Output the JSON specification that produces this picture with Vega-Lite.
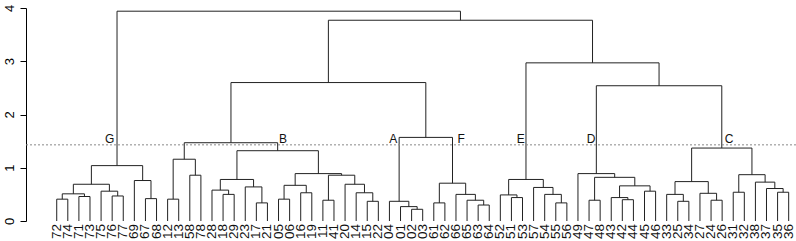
{
 "$schema": "https://vega.github.io/schema/vega-lite/v6.json",
 "width": 770,
 "height": 213,
 "autosize": {"type": "none"},
 "padding": {"left": 26, "top": 8, "right": 0, "bottom": 20},
 "background": "white",
 "config": {"view": {"stroke": null}, "font": "Liberation Sans"},
 "datasets": {
  "nodes": [
   {"xl":1,"hl":0,"xr":2,"hr":0,"h":0.41},
   {"xl":3,"hl":0,"xr":4,"hr":0,"h":0.46},
   {"xl":1.5,"hl":0.41,"xr":3.5,"hr":0.46,"h":0.51},
   {"xl":6,"hl":0,"xr":7,"hr":0,"h":0.47},
   {"xl":5,"hl":0,"xr":6.5,"hr":0.47,"h":0.56},
   {"xl":2.5,"hl":0.51,"xr":5.75,"hr":0.56,"h":0.69},
   {"xl":9,"hl":0,"xr":10,"hr":0,"h":0.42},
   {"xl":8,"hl":0,"xr":9.5,"hr":0.42,"h":0.76},
   {"xl":4.125,"hl":0.69,"xr":8.75,"hr":0.76,"h":1.04},
   {"xl":11,"hl":0,"xr":12,"hr":0,"h":0.41},
   {"xl":13,"hl":0,"xr":14,"hr":0,"h":0.86},
   {"xl":11.5,"hl":0.41,"xr":13.5,"hr":0.86,"h":1.16},
   {"xl":16,"hl":0,"xr":17,"hr":0,"h":0.5},
   {"xl":15,"hl":0,"xr":16.5,"hr":0.5,"h":0.58},
   {"xl":19,"hl":0,"xr":20,"hr":0,"h":0.34},
   {"xl":18,"hl":0,"xr":19.5,"hr":0.34,"h":0.64},
   {"xl":15.75,"hl":0.58,"xr":18.75,"hr":0.64,"h":0.78},
   {"xl":21,"hl":0,"xr":22,"hr":0,"h":0.41},
   {"xl":23,"hl":0,"xr":24,"hr":0,"h":0.53},
   {"xl":21.5,"hl":0.41,"xr":23.5,"hr":0.53,"h":0.67},
   {"xl":25,"hl":0,"xr":26,"hr":0,"h":0.39},
   {"xl":29,"hl":0,"xr":30,"hr":0,"h":0.37},
   {"xl":28,"hl":0,"xr":29.5,"hr":0.37,"h":0.53},
   {"xl":27,"hl":0,"xr":28.75,"hr":0.53,"h":0.69},
   {"xl":25.5,"hl":0.39,"xr":27.875,"hr":0.69,"h":0.86},
   {"xl":22.5,"hl":0.67,"xr":26.6875,"hr":0.86,"h":0.89},
   {"xl":17.25,"hl":0.78,"xr":24.59375,"hr":0.89,"h":1.32},
   {"xl":12.5,"hl":1.16,"xr":20.921875,"hr":1.32,"h":1.47},
   {"xl":33,"hl":0,"xr":34,"hr":0,"h":0.22},
   {"xl":32,"hl":0,"xr":33.5,"hr":0.22,"h":0.27},
   {"xl":31,"hl":0,"xr":32.75,"hr":0.27,"h":0.37},
   {"xl":35,"hl":0,"xr":36,"hr":0,"h":0.34},
   {"xl":39,"hl":0,"xr":40,"hr":0,"h":0.3},
   {"xl":38,"hl":0,"xr":39.5,"hr":0.3,"h":0.39},
   {"xl":37,"hl":0,"xr":38.75,"hr":0.39,"h":0.5},
   {"xl":35.5,"hl":0.34,"xr":37.875,"hr":0.5,"h":0.71},
   {"xl":31.875,"hl":0.37,"xr":36.6875,"hr":0.71,"h":1.57},
   {"xl":16.7109,"hl":1.47,"xr":34.2813,"hr":1.57,"h":2.6},
   {"xl":42,"hl":0,"xr":43,"hr":0,"h":0.44},
   {"xl":41,"hl":0,"xr":42.5,"hr":0.44,"h":0.49},
   {"xl":46,"hl":0,"xr":47,"hr":0,"h":0.34},
   {"xl":45,"hl":0,"xr":46.5,"hr":0.34,"h":0.5},
   {"xl":44,"hl":0,"xr":45.75,"hr":0.5,"h":0.63},
   {"xl":41.75,"hl":0.49,"xr":44.875,"hr":0.63,"h":0.78},
   {"xl":49,"hl":0,"xr":50,"hr":0,"h":0.39},
   {"xl":52,"hl":0,"xr":53,"hr":0,"h":0.4},
   {"xl":51,"hl":0,"xr":52.5,"hr":0.4,"h":0.44},
   {"xl":54,"hl":0,"xr":55,"hr":0,"h":0.56},
   {"xl":51.75,"hl":0.44,"xr":54.5,"hr":0.56,"h":0.66},
   {"xl":49.5,"hl":0.39,"xr":53.125,"hr":0.66,"h":0.82},
   {"xl":48,"hl":0,"xr":51.3125,"hr":0.82,"h":0.89},
   {"xl":57,"hl":0,"xr":58,"hr":0,"h":0.37},
   {"xl":56,"hl":0,"xr":57.5,"hr":0.37,"h":0.5},
   {"xl":60,"hl":0,"xr":61,"hr":0,"h":0.39},
   {"xl":59,"hl":0,"xr":60.5,"hr":0.39,"h":0.52},
   {"xl":56.75,"hl":0.5,"xr":59.75,"hr":0.52,"h":0.74},
   {"xl":62,"hl":0,"xr":63,"hr":0,"h":0.54},
   {"xl":66,"hl":0,"xr":67,"hr":0,"h":0.54},
   {"xl":65,"hl":0,"xr":66.5,"hr":0.54,"h":0.61},
   {"xl":64,"hl":0,"xr":65.75,"hr":0.61,"h":0.73},
   {"xl":62.5,"hl":0.54,"xr":64.875,"hr":0.73,"h":0.87},
   {"xl":58.25,"hl":0.74,"xr":63.6875,"hr":0.87,"h":1.37},
   {"xl":49.6563,"hl":0.89,"xr":60.9688,"hr":1.37,"h":2.54},
   {"xl":43.3125,"hl":0.78,"xr":55.3125,"hr":2.54,"h":2.97},
   {"xl":25.4961,"hl":2.6,"xr":49.3125,"hr":2.97,"h":3.77},
   {"xl":6.4375,"hl":1.04,"xr":37.4043,"hr":3.77,"h":3.94}
  ],
  "leaves": [
   {"i":1,"label":"72"},{"i":2,"label":"74"},{"i":3,"label":"71"},{"i":4,"label":"73"},{"i":5,"label":"75"},
   {"i":6,"label":"76"},{"i":7,"label":"77"},{"i":8,"label":"69"},{"i":9,"label":"67"},{"i":10,"label":"68"},
   {"i":11,"label":"12"},{"i":12,"label":"13"},{"i":13,"label":"58"},{"i":14,"label":"78"},{"i":15,"label":"28"},
   {"i":16,"label":"18"},{"i":17,"label":"29"},{"i":18,"label":"23"},{"i":19,"label":"17"},{"i":20,"label":"21"},
   {"i":21,"label":"05"},{"i":22,"label":"06"},{"i":23,"label":"16"},{"i":24,"label":"19"},{"i":25,"label":"11"},
   {"i":26,"label":"41"},{"i":27,"label":"20"},{"i":28,"label":"14"},{"i":29,"label":"15"},{"i":30,"label":"22"},
   {"i":31,"label":"04"},{"i":32,"label":"01"},{"i":33,"label":"02"},{"i":34,"label":"03"},{"i":35,"label":"61"},
   {"i":36,"label":"62"},{"i":37,"label":"66"},{"i":38,"label":"65"},{"i":39,"label":"63"},{"i":40,"label":"64"},
   {"i":41,"label":"52"},{"i":42,"label":"51"},{"i":43,"label":"53"},{"i":44,"label":"57"},{"i":45,"label":"54"},
   {"i":46,"label":"55"},{"i":47,"label":"56"},{"i":48,"label":"49"},{"i":49,"label":"47"},{"i":50,"label":"48"},
   {"i":51,"label":"43"},{"i":52,"label":"42"},{"i":53,"label":"44"},{"i":54,"label":"45"},{"i":55,"label":"46"},
   {"i":56,"label":"33"},{"i":57,"label":"25"},{"i":58,"label":"34"},{"i":59,"label":"27"},{"i":60,"label":"24"},
   {"i":61,"label":"26"},{"i":62,"label":"31"},{"i":63,"label":"32"},{"i":64,"label":"38"},{"i":65,"label":"37"},
   {"i":66,"label":"35"},{"i":67,"label":"36"}
  ],
  "groups": [
   {"x":5.78,"t":"G"},{"x":21.41,"t":"B"},{"x":31.35,"t":"A"},{"x":37.48,"t":"F"},
   {"x":42.84,"t":"E"},{"x":49.18,"t":"D"},{"x":61.62,"t":"C"}
  ]
 },
 "layer": [
  {
   "data": {"name": "nodes"},
   "mark": {"type": "rule", "color": "#222", "strokeWidth": 1},
   "encoding": {
    "x": {"field": "xl", "type": "quantitative", "axis": null, "scale": {"domain": [-1.77, 67.66], "nice": false, "zero": false}},
    "x2": {"field": "xr"},
    "y": {"field": "h", "type": "quantitative", "title": null,
      "scale": {"domain": [0, 4], "nice": false, "zero": false},
      "axis": {"values": [0, 1, 2, 3, 4], "format": "d", "grid": false, "labelAngle": 270, "labelAlign": "center", "labelBaseline": "bottom",
        "tickSize": 6, "labelPadding": 4, "domainColor": "#000", "tickColor": "#000", "labelColor": "#000",
        "labelFontSize": 13, "labelFont": "Liberation Sans", "title": null}}
   }
  },
  {
   "data": {"name": "nodes"},
   "mark": {"type": "rule", "color": "#222", "strokeWidth": 1},
   "encoding": {
    "x": {"field": "xl", "type": "quantitative", "axis": null},
    "y": {"field": "hl", "type": "quantitative", "title": null},
    "y2": {"field": "h"}
   }
  },
  {
   "data": {"name": "nodes"},
   "mark": {"type": "rule", "color": "#222", "strokeWidth": 1},
   "encoding": {
    "x": {"field": "xr", "type": "quantitative", "axis": null},
    "y": {"field": "hr", "type": "quantitative", "title": null},
    "y2": {"field": "h"}
   }
  },
  {
   "data": {"values": [{"cut": 1.43}]},
   "mark": {"type": "rule", "color": "#888", "strokeWidth": 1, "strokeDash": [2, 2]},
   "encoding": {
    "y": {"field": "cut", "type": "quantitative", "title": null}
   }
  },
  {
   "data": {"name": "leaves"},
   "mark": {"type": "text", "angle": 270, "align": "right", "baseline": "middle", "dx": -3, "fontSize": 13.5, "font": "Liberation Sans", "color": "#111"},
   "encoding": {
    "x": {"field": "i", "type": "quantitative", "axis": null},
    "y": {"datum": 0, "type": "quantitative"},
    "text": {"field": "label"}
   }
  },
  {
   "data": {"name": "groups"},
   "mark": {"type": "text", "align": "center", "baseline": "alphabetic", "dy": -2, "fontSize": 12, "font": "Liberation Sans", "color": "#111"},
   "encoding": {
    "x": {"field": "x", "type": "quantitative", "axis": null},
    "y": {"datum": 1.43, "type": "quantitative"},
    "text": {"field": "t"}
   }
  }
 ]
}
